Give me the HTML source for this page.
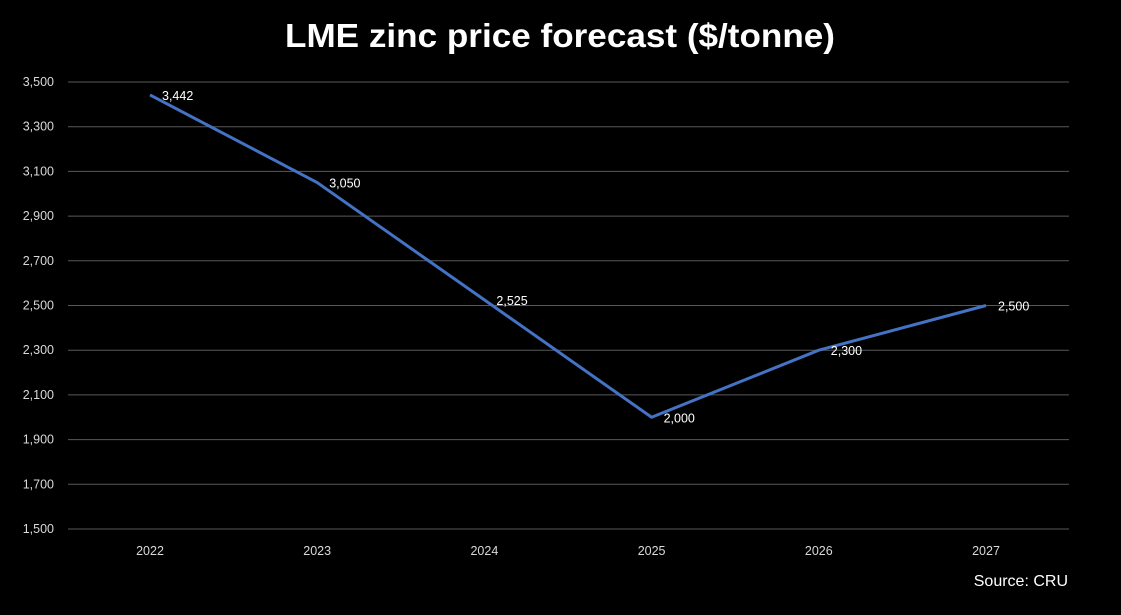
<!DOCTYPE html>
<html><head><meta charset="utf-8"><style>
body{margin:0;background:#000;width:1121px;height:610px;overflow:hidden;font-family:"Liberation Sans",sans-serif}
</style></head><body>
<svg width="1121" height="610" id="chart">
<text x="560" y="47" text-anchor="middle" fill="#fff" font-size="33" font-weight="bold" textLength="550" lengthAdjust="spacingAndGlyphs" font-family="Liberation Sans, sans-serif">LME zinc price forecast ($/tonne)</text>
<text x="1068" y="586" text-anchor="end" fill="#fff" font-size="16">Source: CRU</text>
<g id="grid"></g><g id="yt"></g><g id="xt"></g><g id="series"></g><g id="labels"></g>
</svg>
<script>
const years=["2022","2023","2024","2025","2026","2027"];
const prices=[3442,3050,2525,2000,2300,2500];
const priceLabels=["3,442","3,050","2,525","2,000","2,300","2,500"];
const yTicks=[1500,1700,1900,2100,2300,2500,2700,2900,3100,3300,3500];
const yTickLabels=["1,500","1,700","1,900","2,100","2,300","2,500","2,700","2,900","3,100","3,300","3,500"];
const NS="http://www.w3.org/2000/svg";
const X0=68,X1=1069,Y0=529,Y1=82;
const x=i=>150+i*167.2;
const y=v=>Y0-(v-1500)/2000*(Y0-Y1);
function mk(tag,attrs,parent,txt){const e=document.createElementNS(NS,tag);for(const k in attrs)e.setAttribute(k,attrs[k]);if(txt!==undefined)e.textContent=txt;document.getElementById(parent).appendChild(e);return e;}
yTicks.forEach((t,i)=>{
 const l=mk('line',{x1:X0,x2:X1,y1:y(t),y2:y(t),stroke:'#595959','stroke-width':1},'grid');
 
 
 const tx=mk('text',{x:54,y:y(t)+4,'text-anchor':'end',fill:'#d9d9d9','font-size':12.5},'yt',yTickLabels[i]);
 
 
});
years.forEach((yr,i)=>{
 const tx=mk('text',{x:x(i),y:555,'text-anchor':'middle',fill:'#d9d9d9','font-size':12.5},'xt',yr);
 
 
});
const p=mk('polyline',{points:prices.map((v,i)=>x(i)+','+y(v)).join(' '),fill:'none',stroke:'#4472c4','stroke-width':3,'stroke-linejoin':'round'},'series');


prices.forEach((v,i)=>{
 const tx=mk('text',{x:x(i)+12,y:y(v)+5,fill:'#fff','font-size':12.5},'labels',priceLabels[i]);
 
 
});
</script>
</body></html>
